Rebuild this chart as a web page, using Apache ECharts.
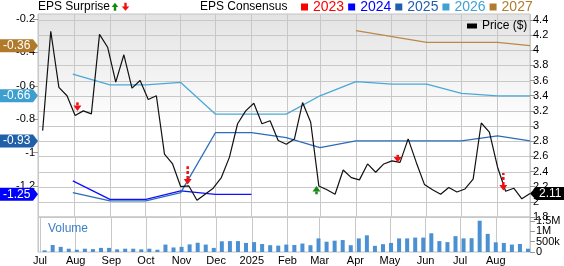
<!DOCTYPE html>
<html><head><meta charset="utf-8">
<script src="https://cdn.jsdelivr.net/npm/echarts@6/dist/echarts.min.js"></script>
<style>html,body{margin:0;padding:0;background:#fff}#c{width:564px;height:266px}</style>
</head><body><div id="c"></div>
<script>
// ---- data ----
const xMin = '2024-07-01';
const xMax = '2025-08-29';
const monthNames = ['Jan','Feb','Mar','Apr','May','Jun','Jul','Aug','Sep','Oct','Nov','Dec'];

// weekly closing price ($), first week ending 2024-07-05
const price = [2.94, 4.25, 3.51, 3.40, 3.14, 3.20, 3.16, 4.21, 4.04, 3.58, 3.94, 3.50, 3.60, 3.35, 3.40,
  2.63, 2.50, 2.20, 2.21, 2.02, 2.10, 2.18, 2.32, 2.59, 3.03, 3.20, 3.30, 3.03, 3.07, 2.81, 2.76, 2.83,
  3.31, 3.05, 2.21, 2.16, 2.10, 2.42, 2.32, 2.29, 2.50, 2.39, 2.50, 2.54, 2.52, 2.83, 2.52, 2.23, 2.16,
  2.10, 2.19, 2.13, 2.17, 2.30, 3.04, 2.92, 2.46, 2.14, 2.18, 2.04, 2.11];
// weekly volume (millions)
const volume = [0.08, 0.34, 0.25, 0.16, 0.11, 0.16, 0.14, 0.20, 0.20, 0.13, 0.16, 0.16, 0.13, 0.16, 0.11,
  0.36, 0.22, 0.25, 0.37, 0.45, 0.36, 0.20, 0.52, 0.53, 0.53, 0.44, 0.48, 0.39, 0.33, 0.31, 0.36, 0.34,
  0.41, 0.33, 0.66, 0.50, 0.55, 0.58, 0.33, 0.66, 0.81, 0.30, 0.38, 0.44, 0.66, 0.66, 0.70, 0.70, 0.91,
  0.53, 0.48, 0.77, 0.66, 0.67, 1.52, 0.88, 0.47, 0.44, 0.36, 0.39, 0.16];

// EPS consensus by fiscal year
const c2024Dates = ['2024-07-31','2024-09-01','2024-10-02','2024-11-01','2024-12-01','2025-01-01'];
const c2024 = [-1.17, -1.28, -1.28, -1.23, -1.25, -1.25];
const c2025Dates = ['2024-07-31','2024-09-01','2024-10-02','2024-11-01','2024-12-01','2025-01-01','2025-01-31','2025-03-01','2025-04-01','2025-05-02','2025-06-01','2025-07-01','2025-08-01','2025-08-29'];
const c2025 = [-1.24, -1.29, -1.29, -1.24, -0.88, -0.88, -0.91, -0.97, -0.93, -0.93, -0.93, -0.93, -0.90, -0.93];
const c2026Dates = ['2024-07-31','2024-09-01','2024-10-02','2024-11-01','2024-12-01','2025-01-31','2025-03-01','2025-04-01','2025-05-02','2025-06-01','2025-07-01','2025-08-01','2025-08-29'];
const c2026 = [-0.53, -0.595, -0.595, -0.58, -0.77, -0.77, -0.66, -0.575, -0.59, -0.59, -0.645, -0.66, -0.66];
const c2027Dates = ['2025-04-01','2025-06-01','2025-08-01','2025-08-29'];
const c2027 = [-0.27, -0.34, -0.34, -0.36];

// EPS surprise markers (date, arrow tip and tail on price scale, direction)
const surpriseDates = ['2024-08-04','2024-11-07','2025-02-26','2025-05-07','2025-08-06'];
const surpriseTip = [3.20, 2.23, 2.21, 2.52, 2.15];
const surpriseTail = [3.32, 2.47, 2.10, 2.62, 2.38];
const surpriseDir = [-1, -1, 1, -1, -1];

const leftTicks = [-0.2, -0.4, -0.6, -0.8, -1, -1.2];
const priceTicks = [1.8, 2, 2.2, 2.4, 2.6, 2.8, 3, 3.2, 3.4, 3.6, 3.8, 4, 4.2, 4.4];
const volumeTicks = [0, 0.5, 1, 1.5];
const volumeTickLabels = ['0', '500k', '1M', '1.5M'];
const years = ['2023','2024','2025','2026','2027'];
const yearColors = ['#ff0000','#0000ff','#1f5fae','#3ea2d3','#b07c30'];
const lineColors = ['#ff0000','#1010ff','#2d6cb8','#4aa8d8','#b8894a'];

// ---- build ----
const weekDates = price.map((_, i) => new Date(2024, 6, 5 + 7 * i).getTime());
const pair = (d, v) => d.map((x, i) => [x, v[i]]);
const FONT = 'Liberation Sans, Arial, sans-serif';

const chart = echarts.init(document.getElementById('c'), null, {renderer: 'canvas'});

// horizontal price gridlines, placed through the price scale (1px filled strips)
const hGrid = {
  type: 'custom', xAxisIndex: 0, yAxisIndex: 0, z: 3, silent: true, clip: false,
  data: priceTicks.map(v => [xMin, v]),
  renderItem: (params, api) => {
    const a = api.coord([xMin, api.value(1)]);
    const b = api.coord([xMax, api.value(1)]);
    return {type: 'rect', shape: {x: a[0], y: Math.round(a[1]), width: b[0] - a[0], height: 1}, style: {fill: '#c8c8c8'}};
  }
};

// volume axis labels, placed through the volume scale
const volLabels = {
  type: 'custom', xAxisIndex: 1, yAxisIndex: 2, z: 20, silent: true, clip: false,
  data: volumeTicks.map((v, i) => [xMax, v, i]),
  renderItem: (params, api) => {
    const p = api.coord([xMax, api.value(1)]);
    return {type: 'text', x: p[0] + 8, y: p[1], style: {text: volumeTickLabels[api.value(2)], fill: '#000', font: '11px ' + FONT, verticalAlign: 'middle'}};
  }
};

const tagSeries = {
  type: 'custom', xAxisIndex: 0, yAxisIndex: 1, clip: false, z: 20, silent: true,
  data: [[xMin, c2027[c2027.length-1], 4], [xMin, c2026[c2026.length-1], 3], [xMin, c2025[c2025.length-1], 2], [xMin, c2024[c2024.length-1], 1]],
  renderItem: (params, api) => {
    const p = api.coord([api.value(0), api.value(1)]);
    const x = p[0], y = p[1], h = 6.5, L = x - 38;
    const col = ['#ff0000','#0000ff','#1f60a8','#3c9fd0','#b07a2a'][api.value(2)];
    return {type: 'group', children: [
      {type: 'polygon', shape: {points: [[L, y-h],[x-5, y-h],[x, y],[x-5, y+h],[L, y+h]]}, style: {fill: col}},
      {type: 'text', x: L + 3, y: y, style: {text: api.value(1).toFixed(2), fill: '#fff', font: '12px ' + FONT, verticalAlign: 'middle'}}
    ]};
  }
};

const priceTag = {
  type: 'custom', xAxisIndex: 0, yAxisIndex: 0, clip: false, z: 20, silent: true,
  data: [[weekDates[weekDates.length-1], price[price.length-1]]],
  renderItem: (params, api) => {
    const p = api.coord([xMax, api.value(1)]);
    const x = p[0], y = p[1], h = 6.5;
    return {type: 'group', children: [
      {type: 'polygon', shape: {points: [[x, y],[x+6, y-h],[x+40, y-h],[x+40, y+h],[x+6, y+h]]}, style: {fill: '#000'}},
      {type: 'text', x: x + 9, y: y, style: {text: api.value(1).toFixed(2), fill: '#fff', font: '12px ' + FONT, verticalAlign: 'middle'}}
    ]};
  }
};

const arrows = {
  type: 'custom', xAxisIndex: 0, yAxisIndex: 0, z: 15, silent: true, clip: false,
  data: surpriseDates.map((d, i) => [d, surpriseTip[i], surpriseTail[i], surpriseDir[i]]),
  renderItem: (params, api) => {
    const tip = api.coord([api.value(0), api.value(1)]);
    const tail = api.coord([api.value(0), api.value(2)]);
    const dir = api.value(3);
    const col = dir > 0 ? '#138a13' : '#f01010';
    const x = tip[0], ty = tip[1];
    const hy = dir > 0 ? ty + 5.5 : ty - 5.5;
    return {type: 'group', children: [
      {type: 'line', shape: {x1: x, y1: hy, x2: x, y2: tail[1]}, style: {stroke: col, lineWidth: 2.5, lineDash: [3, 2]}},
      {type: 'polygon', shape: {points: [[x, ty],[x-4, hy],[x+4, hy]]}, style: {fill: col}}
    ]};
  }
};

const timeLabel = (val) => {
  const d = new Date(val);
  return d.getMonth() === 0 ? String(d.getFullYear()) : monthNames[d.getMonth()];
};

const mkSplit = () => ({show: true, lineStyle: {color: '#c8c8c8', width: 1}});
const yLabel = (extra) => Object.assign({fontSize: 11, color: '#000', margin: 3, fontFamily: FONT, hideOverlap: false}, extra);

const option = {
  animation: false,
  textStyle: {fontFamily: FONT},
  grid: [
    {left: 38, right: 34, top: 14, height: 203, show: true, borderColor: '#c2c2c2', borderWidth: 1,
     backgroundColor: new echarts.graphic.LinearGradient(0, 0, 0, 1, [
       {offset: 0, color: '#e3e3e3'}, {offset: 0.55, color: '#ffffff'}, {offset: 1, color: '#ffffff'}])},
    {left: 38, right: 34, top: 217, height: 37, show: true, borderColor: '#c2c2c2', borderWidth: 1, backgroundColor: '#fff'}
  ],
  xAxis: [
    {type: 'time', gridIndex: 0, min: xMin, max: xMax, splitNumber: 14,
     axisLabel: {show: false}, axisTick: {show: false}, axisLine: {show: false}, splitLine: mkSplit()},
    {type: 'time', gridIndex: 1, min: xMin, max: xMax, splitNumber: 14,
     axisLabel: {show: true, formatter: timeLabel, fontSize: 11, color: '#000', margin: 3, fontFamily: FONT},
     axisTick: {show: false}, axisLine: {show: false}, splitLine: mkSplit()}
  ],
  yAxis: [
    {type: 'value', gridIndex: 0, position: 'right', min: 1.8, max: 4.478, interval: 0.2,
     axisLabel: yLabel({interval: 0, showMaxLabel: false, showMinLabel: true}),
     axisTick: {show: true, length: 5, lineStyle: {color: '#999'}},
     axisLine: {show: false}, splitLine: {show: false}},
    {type: 'value', gridIndex: 0, position: 'left', min: -1.386, max: -0.170,
     axisLabel: yLabel({customValues: leftTicks}),
     axisTick: {show: true, customValues: leftTicks, length: 5, lineStyle: {color: '#999'}},
     axisLine: {show: false}, splitLine: {show: false}},
    {type: 'value', gridIndex: 1, position: 'right', min: 0, max: 1.70, interval: 0.5,
     axisLabel: {show: false},
     axisTick: {show: true, length: 5, lineStyle: {color: '#999'}},
     axisLine: {show: false}, splitLine: {show: false}}
  ],
  legend: [
    {data: years.map((y, i) => ({name: y, textStyle: {color: yearColors[i]}})),
     left: 301, top: 0, padding: 0, itemGap: 4, itemWidth: 7, itemHeight: 7, icon: 'rect', selectedMode: false,
     textStyle: {fontSize: 14, fontFamily: FONT}},
    {data: ['Price ($)'], left: 467, top: 20, padding: 0, itemWidth: 10, itemHeight: 5, icon: 'rect', selectedMode: false,
     textStyle: {fontSize: 12, color: '#000', fontFamily: FONT}}
  ],
  graphic: [
    {type: 'text', x: 38, y: 7, style: {text: 'EPS Surprise', font: '12px ' + FONT, fill: '#000', verticalAlign: 'middle'}},
    {type: 'polygon', shape: {points: [[115, 2.7],[111.7, 7],[113.8, 7],[113.8, 10.7],[116.2, 10.7],[116.2, 7],[118.3, 7]]}, style: {fill: '#138a13'}},
    {type: 'polygon', shape: {points: [[125.5, 10.7],[121.7, 6.5],[124.3, 6.5],[124.3, 2.7],[126.7, 2.7],[126.7, 6.5],[129.3, 6.5]]}, style: {fill: '#f01010'}},
    {type: 'text', x: 200, y: 7, style: {text: 'EPS Consensus', font: '12px ' + FONT, fill: '#000', verticalAlign: 'middle'}},
    {type: 'text', x: 48, y: 229, z: 10, style: {text: 'Volume', font: '12px ' + FONT, fill: '#3b80c6', verticalAlign: 'middle'}}
  ],
  series: [
    hGrid,
    {name: '2023', type: 'line', xAxisIndex: 0, yAxisIndex: 1, data: [], color: lineColors[0], symbol: 'none', z: 4},
    {name: '2024', type: 'line', xAxisIndex: 0, yAxisIndex: 1, data: pair(c2024Dates, c2024), color: yearColors[1], symbol: 'none', z: 4, lineStyle: {width: 1.3, color: lineColors[1]}},
    {name: '2025', type: 'line', xAxisIndex: 0, yAxisIndex: 1, data: pair(c2025Dates, c2025), color: yearColors[2], symbol: 'none', z: 4, lineStyle: {width: 1.3, color: lineColors[2]}},
    {name: '2026', type: 'line', xAxisIndex: 0, yAxisIndex: 1, data: pair(c2026Dates, c2026), color: yearColors[3], symbol: 'none', z: 4, lineStyle: {width: 1.3, color: lineColors[3]}},
    {name: '2027', type: 'line', xAxisIndex: 0, yAxisIndex: 1, data: pair(c2027Dates, c2027), color: yearColors[4], symbol: 'none', z: 4, lineStyle: {width: 1.3, color: lineColors[4]}},
    {name: 'Price ($)', type: 'line', xAxisIndex: 0, yAxisIndex: 0, data: pair(weekDates, price), color: '#000', symbol: 'none', lineStyle: {width: 1.2, color: '#111'}, z: 5},
    {name: 'Volume', type: 'bar', xAxisIndex: 1, yAxisIndex: 2, data: pair(weekDates, volume), barWidth: 4, z: 4, itemStyle: {color: '#4a90d2'}},
    volLabels, arrows, tagSeries, priceTag
  ]
};
chart.setOption(option);
</script>
</body></html>
